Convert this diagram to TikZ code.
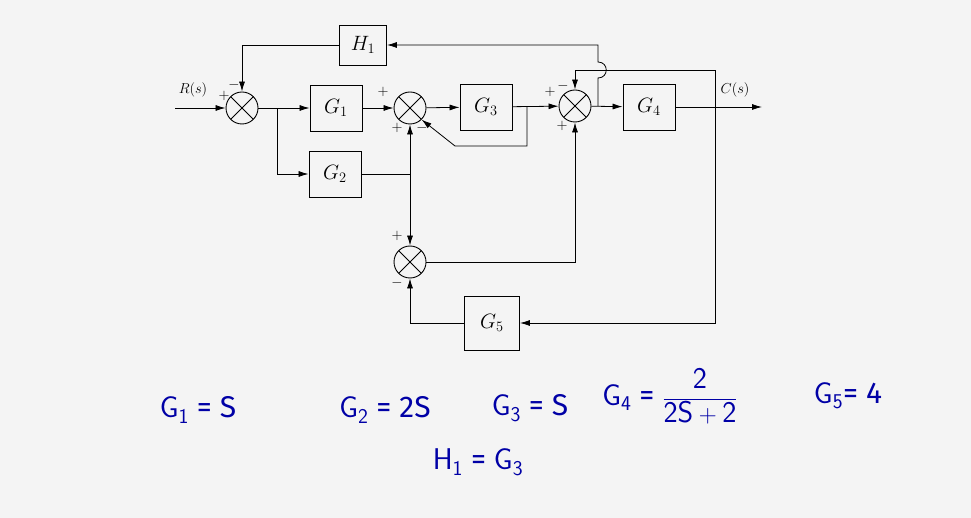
\documentclass[tikz,border=0pt]{standalone}
\usepackage{fontspec}
\newfontfamily\hand{Fira Sans}
\usetikzlibrary{arrows.meta}
\begin{document}
\begin{tikzpicture}[x=1pt,y=-1pt,
  blk/.style={draw,line width=0.9pt,minimum width=52pt,minimum height=46pt,font=\fontsize{22}{22}\selectfont},
  sum/.style={draw,circle,line width=0.9pt,minimum size=32pt,inner sep=0pt,path picture={\draw (path picture bounding box.north west)--(path picture bounding box.south east)(path picture bounding box.north east)--(path picture bounding box.south west);}},
  ar/.style={-{Latex[length=10pt,width=6pt]},line width=0.8pt},
  ln/.style={line width=0.8pt},
  sg/.style={font=\fontsize{15}{15}\selectfont},
  hw/.style={text=blue!65!black,font=\hand\fontsize{30}{30}\selectfont}]
\fill[gray!9] (0,0) rectangle (971,518);
\useasboundingbox (0,0) rectangle (971,518);
\node[sum] (s1) at (242,108) {};
\node[sum] (s2) at (410,108) {};
\node[sum] (s3) at (575,106) {};
\node[sum] (s4) at (410,262) {};
\node[blk] (g1) at (336,108) {$G_1$};
\node[blk] (g2) at (335,174) {$G_2$};
\node[blk] (g3) at (486,107) {$G_3$};
\node[blk] (g4) at (649,107) {$G_4$};
\node[blk,minimum width=47pt,minimum height=40pt] (h1) at (363,45) {$H_1$};
\node[blk,minimum width=55pt,minimum height=54pt] (g5) at (492,323) {$G_5$};
\coordinate (rin) at (175,108);
\coordinate (cout) at (762,107);
\node[sg] at (193,90) {$R(s)$};
\node[sg] at (735,90) {$C(s)$};
\draw[ar] (rin) -- (s1);
\draw[ar] (s1) -- (g1);
\draw[ar] (s1.east) -- ++(19,0) coordinate (t1) |- (g2);
\draw[ar] (g1) -- (s2);
\draw[ar] (s2) -- (g3);
\draw[ar] (g3) -- (s3);
\draw[ar] (s3) -- (g4);
\draw[ar] (g4) -- (cout);
\coordinate (j2) at (410,174);
\draw[ln] (g2.east) -- (j2);
\draw[ar] (j2) -- (s2);
\draw[ar] (j2) -- (s4);
\draw[ar] (527,107) -- (527,146) -- (455,146) -- (s2.south east);
\draw[ar] (s4.east) -| (s3);
\coordinate (o1) at (715,107);
\draw[ar] (o1) -- (715,70) -| (s3);
\draw[ar] (o1) |- (g5.east);
\draw[ar] (g5.west) -| (s4);
\draw[ar] (598,106) -- (598,78) .. controls (609,78) and (609,62) .. (598,62) -- (598,45) -- (h1.east);
\draw[ar] (h1.west) -| (s1);
\node[sg] at (224,96) {$+$};
\node[sg] at (234,85) {$-$};
\node[sg] at (383,92) {$+$};
\node[sg] at (397,128) {$+$};
\node[sg] at (422,128) {$-$};
\node[sg] at (550,92) {$+$};
\node[sg] at (563,86) {$-$};
\node[sg] at (562,126) {$+$};
\node[sg] at (397,236) {$+$};
\node[sg] at (397,283) {$-$};
\node[hw] at (198,410) {$\mathsf{G_1}$ = S};
\node[hw] at (385,410) {$\mathsf{G_2}$ = 2S};
\node[hw] at (530,408) {$\mathsf{G_3}$ = S};
\node[hw] at (670,396) {$\mathsf{G_4}$ = $\displaystyle\frac{\mathsf{2}}{\mathsf{2S+2}}$};
\node[hw] at (848,396) {$\mathsf{G_5}$= 4};
\node[hw] at (478,462) {$\mathsf{H_1}$ = $\mathsf{G_3}$};
\end{tikzpicture}
\end{document}
